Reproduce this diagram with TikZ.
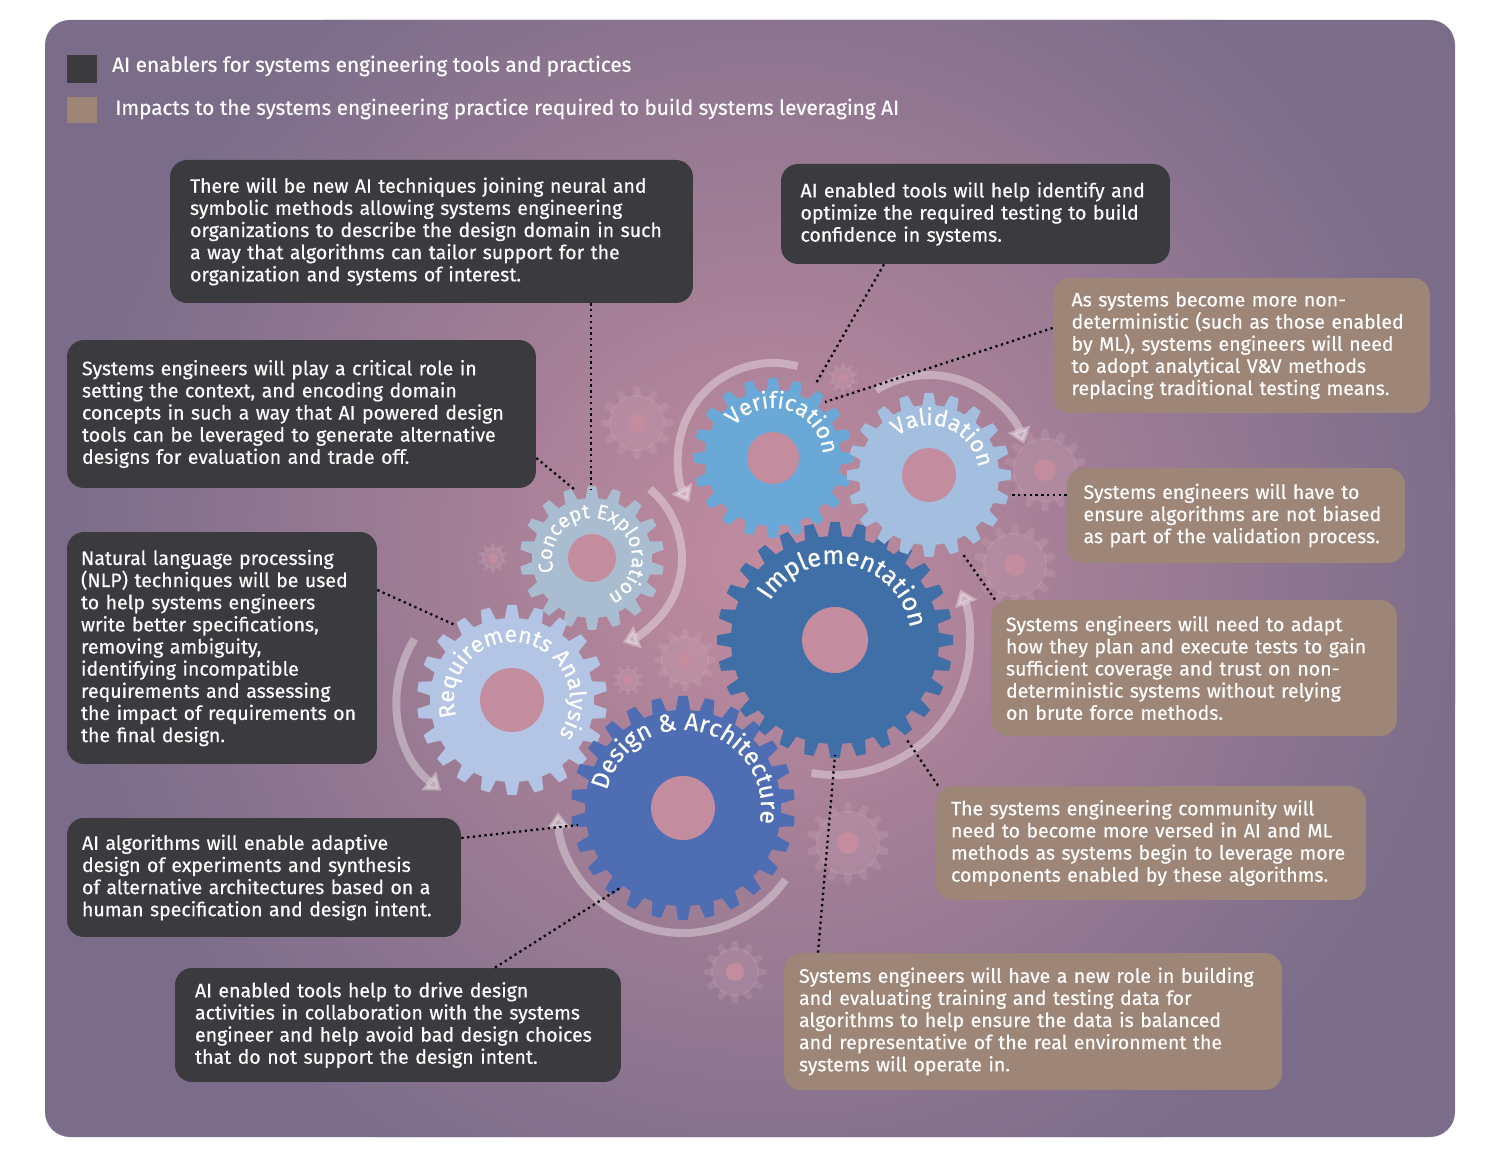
\documentclass[tikz,border=0pt]{standalone}
\usepackage{fontspec}
\setmainfont{Fira Sans}[FakeBold=0.45]
\usetikzlibrary{decorations.text,arrows.meta}
\definecolor{bgout}{HTML}{7B6D8A}
\definecolor{bgin}{HTML}{C28CA0}
\definecolor{darkbox}{HTML}{3B3A3E}
\definecolor{tanbox}{HTML}{9D8577}
\definecolor{holec}{HTML}{C48C9F}
\tikzset{
 bx/.style={rounded corners=0.34cm,inner sep=0pt,align=left,text=white,font=\fontsize{11.1}{12.6}\selectfont},
 dk/.style={bx,fill=darkbox},
 tn/.style={bx,fill=tanbox},
 conn/.style={dotted,line width=1.3pt,black},
 carrow/.style={white,opacity=0.35,line width=4.5pt,-{Triangle[length=9pt,width=13pt]}},
 faint/.style={holec!70!white,opacity=0.22},
}
\newcommand\mygear[7]{% x y rin rout teeth color hole
 \fill[#6] (#1,#2) circle (#3);
 \pgfmathsetmacro\pw{2*3.14159*#3/#5}
 \foreach \i in {1,...,#5}{
  \fill[#6,rotate around={\i*360/#5:(#1,#2)}]
   ({#1-0.32*\pw},{#2+#3-2}) -- ({#1-0.2*\pw},{#2+#4}) -- ({#1+0.2*\pw},{#2+#4}) -- ({#1+0.32*\pw},{#2+#3-2}) -- cycle;}
 \fill[holec] (#1,#2) circle (#7);
}
\newcommand\geartext[7]{% x y r start end text size
 \path[decorate,decoration={text along path,text align=center,text color=white,
   text={|\fontsize{#7}{#7}\selectfont|#6}}]
   (#1,#2) ++(#4:#3) arc[start angle=#4,end angle=#5,radius=#3];
}
\begin{document}
\begin{tikzpicture}[x=0.02cm,y=0.02cm]
\useasboundingbox (0,0) rectangle (1500,1159);
\begin{scope}
\clip[rounded corners=0.5cm] (45,22) rectangle (1455,1139);
\fill[bgout] (0,0) rectangle (1500,1159);
\shade[inner color=bgin,outer color=bgout] (770,600) circle (700);
\end{scope}
% legend
\fill[darkbox] (67,1076) rectangle (97,1104);
\fill[tanbox] (67,1036) rectangle (97,1062);
\node[anchor=west,text=white,font=\fontsize{11.8}{14}\selectfont] (l1) at (106,1093) {AI enablers for systems engineering tools and practices};
\node[anchor=west,text=white,font=\fontsize{11.8}{14}\selectfont] (l2) at (109,1050) {Impacts to the systems engineering practice required to build systems leveraging AI};
% faint gears
\mygear{637}{736}{28}{36}{12}{faint}{9}
\mygear{493}{601}{11}{15}{10}{faint}{5}
\mygear{685}{499}{24}{31}{12}{faint}{9}
\mygear{628}{479}{11}{15}{10}{faint}{5}
\mygear{843}{781}{11}{15}{10}{faint}{5}
\mygear{1045}{689}{32}{41}{14}{faint}{11}
\mygear{1015}{594}{32}{41}{14}{faint}{11}
\mygear{848}{316}{32}{41}{14}{faint}{11}
\mygear{735}{187}{24}{31}{12}{faint}{9}
% circular arrows
\draw[carrow] (773,701) ++(75:95) arc[start angle=75,end angle=208,radius=95];
\draw[carrow] (929,684) ++(122:100) arc[start angle=122,end angle=18,radius=100];
\draw[carrow] (592,601) ++(50:90) arc[start angle=50,end angle=-70,radius=90];
\draw[carrow] (512,459) ++(148:115) arc[start angle=148,end angle=232,radius=115];
\draw[carrow] (683,351) ++(-35:125) arc[start angle=-35,end angle=-178,radius=125];
\draw[carrow] (835,519) ++(-100:135) arc[start angle=-100,end angle=22,radius=135];
% gears
\mygear{592}{601}{60}{72}{18}{fill={rgb,255:red,169;green,188;blue,208}}{24}
\mygear{512}{459}{82}{95}{22}{fill={rgb,255:red,180;green,196;blue,228}}{32}
\mygear{683}{351}{98}{112}{26}{fill={rgb,255:red,79;green,109;blue,179}}{32}
\mygear{835}{519}{104}{118}{28}{fill={rgb,255:red,63;green,111;blue,166}}{33}
\mygear{773}{701}{68}{80}{20}{fill={rgb,255:red,106;green,168;blue,216}}{26}
\mygear{929}{684}{70}{82}{20}{fill={rgb,255:red,164;green,190;blue,223}}{27}
\geartext{592}{601}{40}{205}{-72}{Concept Exploration}{11.5}
\geartext{512}{459}{58}{212}{-52}{Requirements Analysis}{13}
\geartext{683}{351}{78}{196}{-40}{Design {\&} Architecture}{14}
\geartext{835}{519}{76}{170}{-12}{Implementation}{14.5}
\geartext{773}{701}{50}{160}{-15}{Verification}{13}
\geartext{929}{684}{50}{150}{-12}{Validation}{13}
% boxes
\node[dk,minimum width=10.46cm,minimum height=2.86cm,text width=9.66cm] (b1) at (431.5,927.5) {There will be new AI techniques joining neural and\\symbolic methods allowing systems engineering\\organizations to describe the design domain in such\\a way that algorithms can tailor support for the\\organization and systems of interest.};
\node[dk,minimum width=9.38cm,minimum height=2.96cm,text width=8.78cm] (b2) at (301.5,745) {Systems engineers will play a critical role in\\setting the context, and encoding domain\\concepts in such a way that AI powered design\\tools can be leveraged to generate alternative\\designs for evaluation and trade off.};
\node[dk,minimum width=6.2cm,minimum height=4.64cm,text width=5.64cm] (b3) at (222,511) {Natural language processing\\(NLP) techniques will be used\\to help systems engineers\\write better specifications,\\removing ambiguity,\\identifying incompatible\\requirements and assessing\\the impact of requirements on\\the final design.};
\node[dk,minimum width=7.88cm,minimum height=2.38cm,text width=7.28cm] (b4) at (264,281.5) {AI algorithms will enable adaptive\\design of experiments and synthesis\\of alternative architectures based on a\\human specification and design intent.};
\node[dk,minimum width=8.92cm,minimum height=2.28cm,text width=8.12cm] (b5) at (398,134) {AI enabled tools help to drive design\\activities in collaboration with the systems\\engineer and help avoid bad design choices\\that do not support the design intent.};
\node[dk,minimum width=7.78cm,minimum height=2.0cm,text width=7.0cm] (b6) at (975.5,945) {AI enabled tools will help identify and\\optimize the required testing to build\\confidence in systems.};
\node[tn,minimum width=7.54cm,minimum height=2.7cm,text width=6.8cm] (b7) at (1241.5,813.5) {As systems become more non-\\deterministic (such as those enabled\\by ML), systems engineers will need\\to adopt analytical V\&V methods\\replacing traditional testing means.};
\node[tn,minimum width=6.76cm,minimum height=1.9cm,text width=6.1cm] (b8) at (1236,643.5) {Systems engineers will have to\\ensure algorithms are not biased\\as part of the validation process.};
\node[tn,minimum width=8.12cm,minimum height=2.72cm,text width=7.52cm] (b9) at (1194,491) {Systems engineers will need to adapt\\how they plan and execute tests to gain\\sufficient coverage and trust on non-\\deterministic systems without relying\\on brute force methods.};
\node[tn,minimum width=8.6cm,minimum height=2.28cm,text width=8.0cm] (b10) at (1151,316) {The systems engineering community will\\need to become more versed in AI and ML\\methods as systems begin to leverage more\\components enabled by these algorithms.};
\node[tn,minimum width=9.96cm,minimum height=2.74cm,text width=9.36cm] (b11) at (1033,137.5) {Systems engineers will have a new role in building\\and evaluating training and testing data for\\algorithms to help ensure the data is balanced\\and representative of the real environment the\\systems will operate in.};
% connectors
\coordinate (e1) at (591,669);
\coordinate (e2) at (575,669);
\coordinate (e3) at (455,534);
\coordinate (e4) at (578,334);
\coordinate (e5) at (620,271);
\coordinate (e6) at (815,774);
\coordinate (e7) at (825,757);
\coordinate (e8) at (1010,664);
\coordinate (e9) at (962,606);
\coordinate (e10) at (907,419);
\coordinate (e11) at (835,404);
\draw[conn] (b1.south -| e1) -- (e1);
\draw[conn] (b2.east |- 0,701) -- (e2);
\draw[conn] (b3.east |- 0,569) -- (e3);
\draw[conn] (b4.east |- 0,321) -- (e4);
\draw[conn] (b5.north -| 495,0) -- (e5);
\draw[conn] (b6.south -| 884,0) -- (e6);
\draw[conn] (b7.west |- 0,831) -- (e7);
\draw[conn] (b8.west |- 0,664) -- (e8);
\draw[conn] (b9.north -| 995,0) -- (e9);
\draw[conn] (b10.north -| 938,0) -- (e10);
\draw[conn] (b11.north -| 818,0) -- (e11);
\end{tikzpicture}
\end{document}
